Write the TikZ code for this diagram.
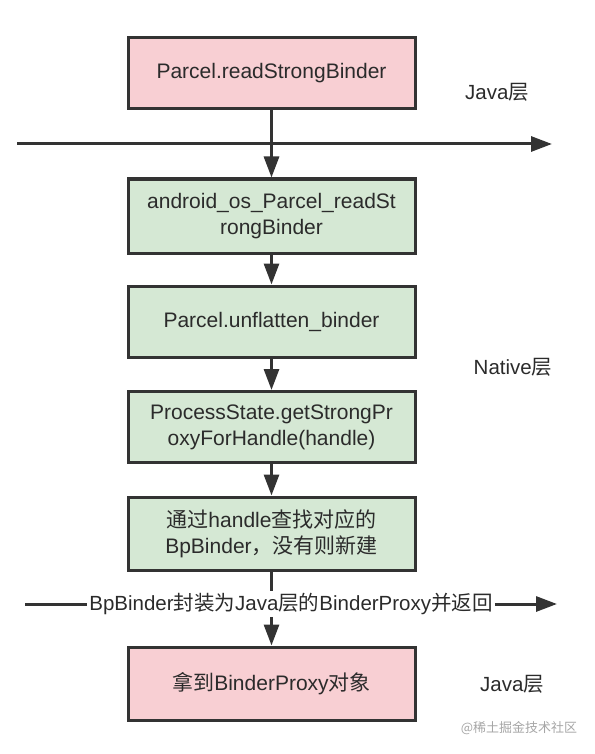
\documentclass[tikz,border=0pt]{standalone}
\usepackage{fontspec}
\setmainfont{Liberation Sans}
\newfontfamily\cjk{Noto Sans CJK SC}
\usetikzlibrary{arrows.meta}
\definecolor{pinkfill}{HTML}{F8CFD3}
\definecolor{greenfill}{HTML}{D5E8D4}
\definecolor{edge}{HTML}{333333}
\definecolor{txt}{HTML}{2B2B2B}
\tikzset{
  box/.style={draw=edge, line width=3pt, minimum width=287pt, minimum height=71pt,
    inner sep=2pt, align=center, font=\fontsize{21}{26}\selectfont, text=txt},
  pinkbox/.style={box, fill=pinkfill},
  greenbox/.style={box, fill=greenfill},
  conn/.style={draw=edge, line width=3pt, -{Triangle[length=21pt,width=15pt]}},
  plain/.style={draw=edge, line width=3pt},
  side/.style={font=\fontsize{20.5}{24}\selectfont, text=txt}
}
\begin{document}
\begin{tikzpicture}[x=1pt,y=-1pt]
\useasboundingbox (0,0) rectangle (594,754);
\node[pinkbox] (b1) at (271.5,73) {Parcel.readStrongBinder};
\node[greenbox, minimum height=74pt] (b2) at (271.5,216) {android\_os\_Parcel\_readSt\\rongBinder};
\node[greenbox] (b3) at (271.5,321.5) {Parcel.unflatten\_binder};
\node[greenbox] (b4) at (271.5,427) {ProcessState.getStrongPr\\oxyForHandle(handle)};
\node[greenbox, minimum height=73pt] (b5) at (271.5,533.5) {{\cjk 通过}handle{\cjk 查找对应的}\\BpBinder{\cjk ，没有则新建}};
\node[pinkbox, minimum height=73pt] (b6) at (271.5,683.5) {{\cjk 拿到}BinderProxy{\cjk 对象}};

\node[side] (j1) at (497,92) {Java{\cjk 层}};
\node[side] (n1) at (513,367) {Native{\cjk 层}};
\node[side] (j2) at (512,684) {Java{\cjk 层}};

\coordinate (l1a) at (17,144);
\coordinate (l1b) at (552,144);
\draw[conn] (l1a) -- (l1b);

\node[side, inner sep=2pt] (ret) at (291,604) {BpBinder{\cjk 封装为}Java{\cjk 层的}BinderProxy{\cjk 并返回}};
\coordinate (l2a) at (25,604);
\coordinate (l2b) at (557,604);
\draw[plain] (l2a) -- (ret.west);
\draw[conn] (ret.east) -- (l2b);

\draw[conn] (b1) -- (b2);
\draw[conn] (b2) -- (b3);
\draw[conn] (b3) -- (b4);
\draw[conn] (b4) -- (b5);
\draw[plain] (b5.south) -- (ret.north -| b5.south);
\draw[conn] (ret.south -| b6.north) -- (b6.north);

\node[font=\cjk\fontsize{13}{15}\selectfont, text=black!35] (wm) at (519,728) {@稀土掘金技术社区};
\end{tikzpicture}
\end{document}
